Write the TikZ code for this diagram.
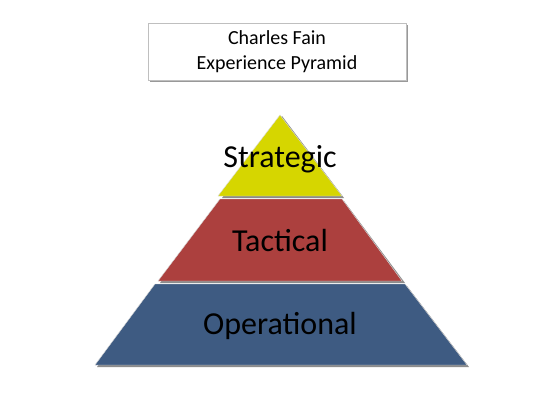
\documentclass[tikz,border=0pt]{standalone}
\usepackage{fontspec}
\setmainfont{Carlito}
\definecolor{tierY}{RGB}{214,214,0}
\definecolor{tierR}{RGB}{172,64,62}
\definecolor{tierB}{RGB}{62,91,130}
\begin{document}
\begin{tikzpicture}[x=1pt,y=-1pt,
  tier/.style={draw=white!85!black,line width=0.4pt},
  shade/.style={fill=black!45,draw=none},
  lbl/.style={anchor=base,font=\fontsize{32}{38}\selectfont,text=black,inner sep=0pt},
  ttl/.style={align=center,font=\fontsize{20}{25}\selectfont,text=black,inner sep=0pt}]
\useasboundingbox[fill=white] (0,0) rectangle (560,420);
% title box
\fill[black!40] (150,25) rectangle (408,82);
\draw[fill=white,draw=black!25] (148,23) rectangle (406,80);
\node[ttl] (title) at (277,52) {Charles Fain\\Experience Pyramid};
% shadows
\fill[shade] (282,116) -- (344,198) -- (222,198) -- cycle;
\fill[shade] (222,201) -- (344,201) -- (405,283) -- (160,283) -- cycle;
\fill[shade] (157,286) -- (407,286) -- (469,367) -- (97,367) -- cycle;
% tiers
\draw[tier,fill=tierY] (280,115) -- (342,196) -- (218,196) -- cycle;
\draw[tier,fill=tierR] (220,199) -- (342,199) -- (402,281) -- (158,281) -- cycle;
\draw[tier,fill=tierB] (155,284) -- (405,284) -- (467,365) -- (95,365) -- cycle;
\node[lbl] (strat) at (280,167) {Strategic};
\node[lbl] (tact) at (280,251) {Tactical};
\node[lbl] (oper) at (280,334) {Operational};
\end{tikzpicture}
\end{document}
